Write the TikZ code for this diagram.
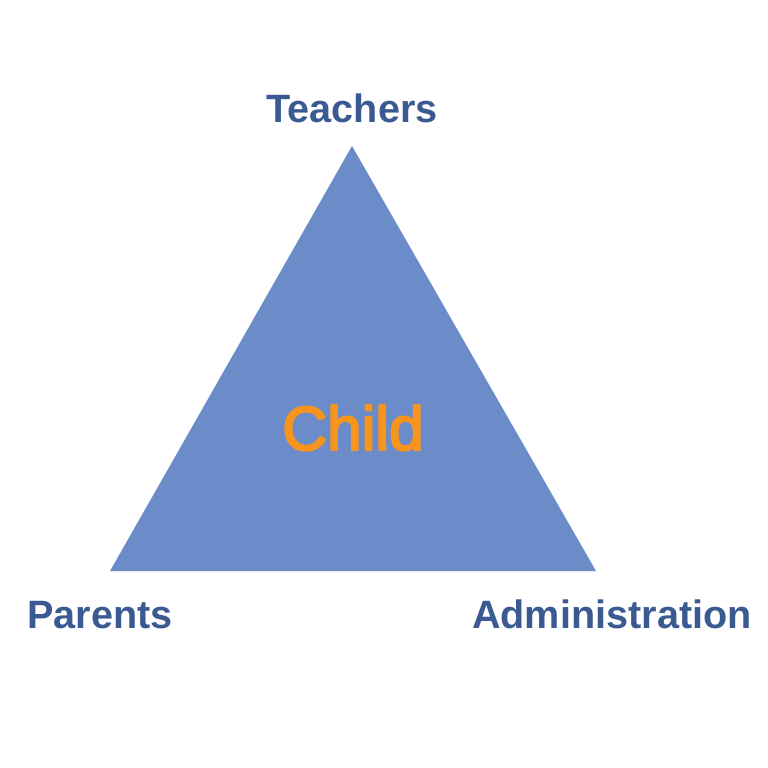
\documentclass[tikz,border=0pt]{standalone}
\usepackage{fontspec}
\setmainfont{Liberation Sans}
\definecolor{tri}{HTML}{6B8CC8}
\definecolor{lbl}{HTML}{3C5A92}
\definecolor{kid}{HTML}{F7941D}
\newcommand{\heavytext}[1]{\special{pdf:literal direct 2 Tr 2.2 w 1 j}#1\special{pdf:literal direct 0 Tr}}
\begin{document}
\begin{tikzpicture}[x=1pt,y=-1pt,
  lab/.style={font=\fontsize{39.6}{44}\selectfont\bfseries, text=lbl, inner sep=0pt},
  kidtext/.style={font=\fontsize{62}{70}\selectfont, inner sep=0pt}]
\useasboundingbox (0,0) rectangle (768,768);
\fill[white] (0,0) rectangle (768,768);
\coordinate (top) at (352,146);
\coordinate (bl) at (110,571);
\coordinate (br) at (596,571);
\fill[tri] (top) -- (bl) -- (br) -- cycle;
\node[kidtext, text=kid, anchor=base] (child) at (353,450) {\heavytext{Child}};
\node[lab, anchor=base] (teachers) at (352,122) {Teachers};
\node[lab, anchor=base west] (parents) at (27,628) {Parents};
\node[lab, anchor=base west] (admin) at (472,628) {Administration};
\end{tikzpicture}
\end{document}
